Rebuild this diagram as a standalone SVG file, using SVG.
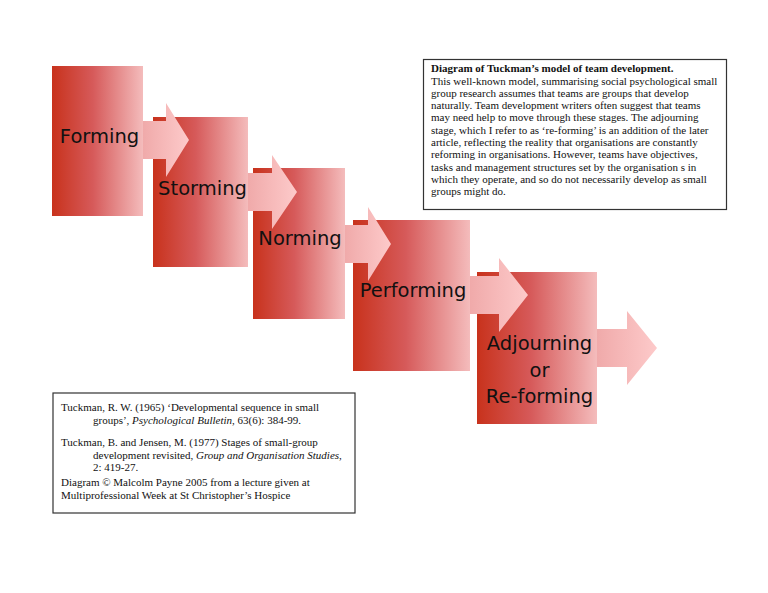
<svg xmlns="http://www.w3.org/2000/svg" width="768" height="593" viewBox="0 0 768 593">
<defs>
<linearGradient id="gBlock" x1="0" y1="0" x2="1" y2="0">
<stop offset="0" stop-color="#c8321c"/>
<stop offset="0.45" stop-color="#d65a5a"/>
<stop offset="1" stop-color="#f4bcbc"/>
</linearGradient>
<linearGradient id="gArrow" x1="0" y1="0" x2="1" y2="0">
<stop offset="0" stop-color="#f0aaaa"/>
<stop offset="1" stop-color="#fdcaca"/>
</linearGradient>
</defs>
<style>
.block{fill:url(#gBlock);}
.arrow{fill:url(#gArrow);}
.lbl{font-family:"DejaVu Sans",Verdana,sans-serif;font-size:19.5px;fill:#111;text-anchor:middle;}
.box{fill:#fff;stroke:#333;stroke-width:1.2;}
.txt{font-family:"Liberation Serif","Times New Roman",serif;font-size:11px;fill:#111;}
.b{font-weight:bold;}
.i{font-style:italic;}
</style>
<rect width="768" height="593" fill="#fff"/>
<g id="nodes">
<g id="forming"><rect class="block" x="52" y="66" width="91" height="150"/><text class="lbl" x="99.5" y="143">Forming</text></g>
<g id="storming"><rect class="block" x="153" y="117" width="95" height="150"/><text class="lbl" x="202.5" y="195">Storming</text></g>
<g id="norming"><rect class="block" x="253" y="168" width="92" height="151"/><text class="lbl" x="300" y="245">Norming</text></g>
<g id="performing"><rect class="block" x="353" y="220" width="117" height="151"/><text class="lbl" x="413" y="297">Performing</text></g>
<g id="adjourning"><rect class="block" x="477" y="272" width="120" height="152"/><text class="lbl" x="539.5" y="350">Adjourning</text><text class="lbl" x="539.5" y="376.5">or</text><text class="lbl" x="539.5" y="403">Re-forming</text></g>
</g>
<g id="connectors">
<path class="arrow" d="M143 121 H166 V103 L189 140 L166 177 V159 H143 Z"/>
<path class="arrow" d="M248 173 H272 V155 L297 192 L272 229 V211 H248 Z"/>
<path class="arrow" d="M345 225 H368 V207 L391 244 L368 281 V263 H345 Z"/>
<path class="arrow" d="M470 276 H499 V258 L528 295 L499 332 V314 H470 Z"/>
<path class="arrow" d="M597 329 H627 V311 L657 348 L627 385 V367 H597 Z"/>
</g>
<g id="description">
<rect class="box" x="423.5" y="59.5" width="303" height="150"/>
<text class="txt b" x="431" y="72.3">Diagram of Tuckman’s model of team development.</text>
<text class="txt" x="431" y="84.6">This well-known model, summarising social psychological small</text>
<text class="txt" x="431" y="96.8">group research assumes that teams are groups that develop</text>
<text class="txt" x="431" y="109.1">naturally. Team development writers often suggest that teams</text>
<text class="txt" x="431" y="121.4">may need help to move through these stages. The adjourning</text>
<text class="txt" x="431" y="133.7">stage, which I refer to as ‘re-forming’ is an addition of the later</text>
<text class="txt" x="431" y="145.9">article, reflecting the reality that organisations are constantly</text>
<text class="txt" x="431" y="158.2">reforming in organisations. However, teams have objectives,</text>
<text class="txt" x="431" y="170.5">tasks and management structures set by the organisation s in</text>
<text class="txt" x="431" y="182.7">which they operate, and so do not necessarily develop as small</text>
<text class="txt" x="431" y="195">groups might do.</text>
</g>
<g id="references">
<rect class="box" x="53" y="393" width="302" height="120"/>
<text class="txt" x="61" y="411">Tuckman, R. W. (1965) ‘Developmental sequence in small</text>
<text class="txt" x="93" y="424">groups’, <tspan class="i">Psychological Bulletin</tspan>, 63(6): 384-99.</text>
<text class="txt" x="61" y="445.5">Tuckman, B. and Jensen, M. (1977) Stages of small-group</text>
<text class="txt" x="93" y="458.5">development revisited, <tspan class="i">Group and Organisation Studies</tspan>,</text>
<text class="txt" x="93" y="471">2: 419-27.</text>
<text class="txt" x="61" y="486">Diagram © Malcolm Payne 2005 from a lecture given at</text>
<text class="txt" x="61" y="499">Multiprofessional Week at St Christopher’s Hospice</text>
</g>
</svg>
